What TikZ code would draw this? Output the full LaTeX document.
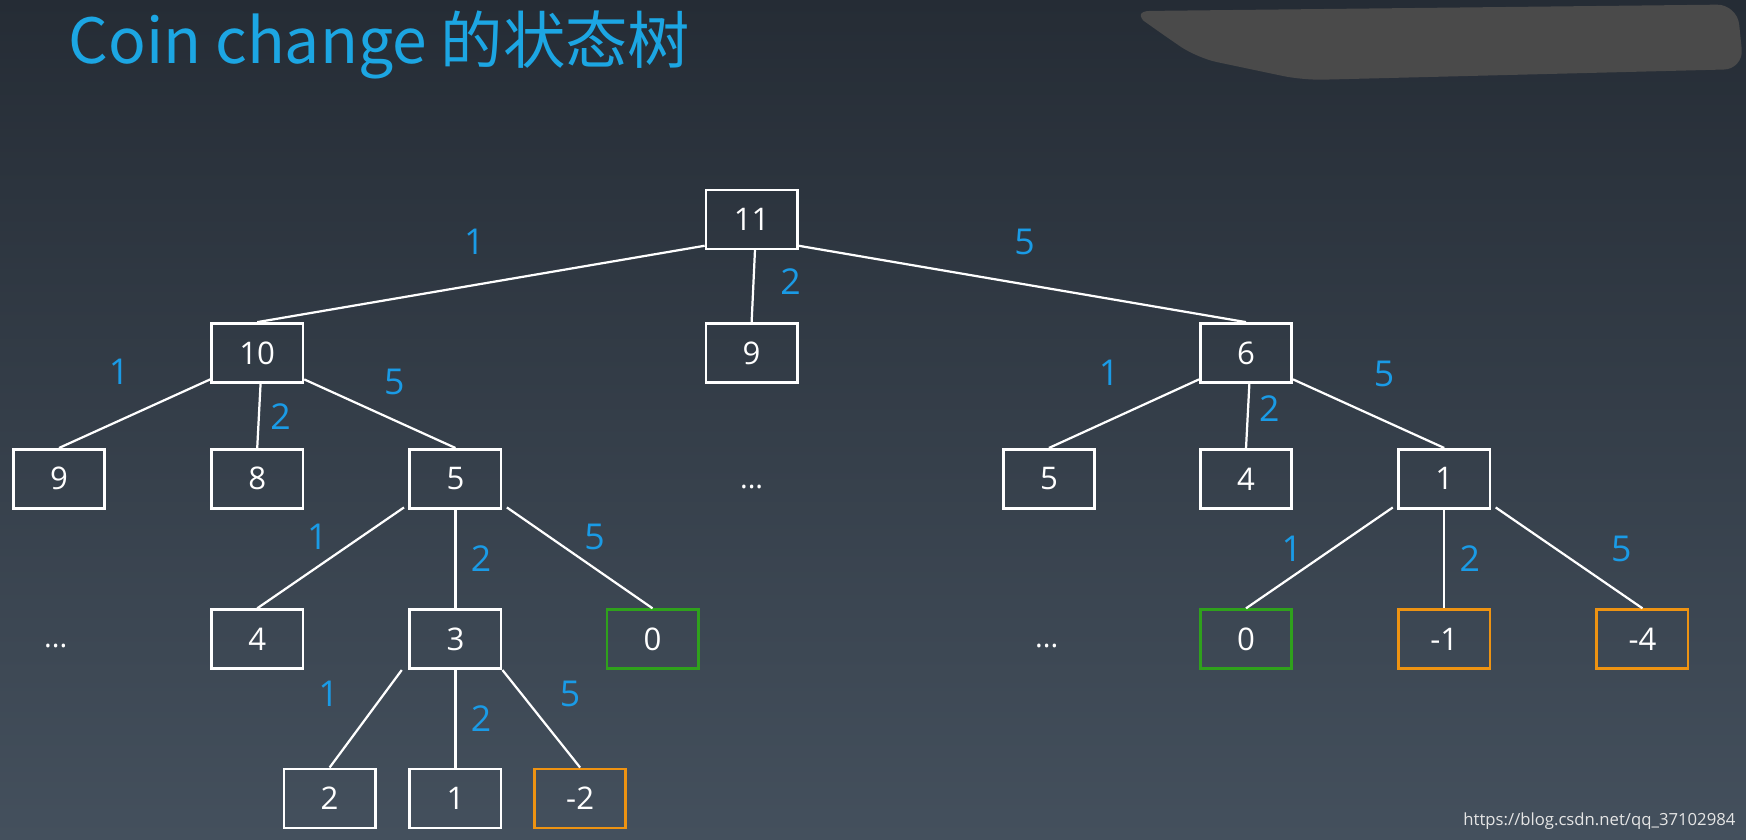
\documentclass[tikz,border=0pt]{standalone}
\usepackage{fontspec}
\setmainfont{Open Sans}
\newfontfamily\cjk{Noto Sans CJK SC}
\usetikzlibrary{calc}
\definecolor{bgtop}{HTML}{252C35}
\definecolor{bgbot}{HTML}{44505D}
\definecolor{lblue}{HTML}{1A9BE6}
\definecolor{tblue}{HTML}{1CA6E3}
\definecolor{okgreen}{HTML}{2FA11C}
\definecolor{badorange}{HTML}{EE9312}
\definecolor{smudge}{HTML}{4A4A4A}
\begin{document}
\begin{tikzpicture}[x=1pt,y=-1pt,
  nbox/.style={draw=white,line width=2.4pt,minimum width=82pt,minimum height=53pt,inner sep=0pt,text=white,font=\fontsize{28}{30}\selectfont},
  good/.style={nbox,draw=okgreen},
  bad/.style={nbox,draw=badorange},
  dots/.style={text=white,font=\fontsize{26}{28}\selectfont},
  edge/.style={white,line width=2pt},
  lbl/.style={text=lblue,font=\fontsize{32}{34}\selectfont}]
\shade[top color=bgtop,bottom color=bgbot] (0,0) rectangle (1568,754);
\useasboundingbox (0,0) rectangle (1568,754);
% redaction smudge
\fill[smudge,rounded corners=18pt] (1015,10) -- (1560,4) -- (1566,62) -- (1170,72) -- (1075,52) -- (1040,28) -- cycle;
\node[anchor=west,text=tblue,font=\cjk\fontsize{56}{60}\selectfont] (title) at (58,40) {Coin change 的状态树};
% nodes
\node[nbox] (n11) at (675,197) {11};
\node[nbox] (n10) at (231,317) {10};
\node[nbox] (n9a) at (675,317) {9};
\node[nbox] (n6) at (1119,317) {6};
\node[nbox] (n9b) at (53,430) {9};
\node[nbox] (n8) at (231,430) {8};
\node[nbox] (n5a) at (409,430) {5};
\node[dots] (d1) at (675,437) {...};
\node[nbox] (n5b) at (942,430) {5};
\node[nbox] (n4a) at (1119,430) {4};
\node[nbox] (n1a) at (1297,430) {1};
\node[dots] (d2) at (50,580) {...};
\node[nbox] (n4b) at (231,574) {4};
\node[nbox] (n3) at (409,574) {3};
\node[good] (z1) at (586,574) {0};
\node[dots] (d3) at (940,580) {...};
\node[good] (z2) at (1119,574) {0};
\node[bad] (m1) at (1297,574) {-1};
\node[bad] (m4) at (1475,574) {-4};
\node[nbox] (n2) at (296,717) {2};
\node[nbox] (n1b) at (409,717) {1};
\node[bad] (m2) at (521,717) {-2};
% edges
\draw[edge] ($(n11.south west)+(0,-4)$) -- (n10.north);
\draw[edge] ($(n11.south)+(3,0)$) -- (n9a.north);
\draw[edge] ($(n11.south east)+(0,-4)$) -- (n6.north);
\draw[edge] ($(n10.south west)+(0,-4)$) -- (n9b.north);
\draw[edge] ($(n10.south)+(3,0)$) -- (n8.north);
\draw[edge] ($(n10.south east)+(0,-4)$) -- (n5a.north);
\draw[edge] ($(n6.south west)+(0,-4)$) -- (n5b.north);
\draw[edge] ($(n6.south)+(3,0)$) -- (n4a.north);
\draw[edge] ($(n6.south east)+(0,-4)$) -- (n1a.north);
\draw[edge] ($(n5a.south west)+(-4,-2)$) -- (n4b.north);
\draw[edge] (n5a.south) -- (n3.north);
\draw[edge] ($(n5a.south east)+(4,-2)$) -- (z1.north);
\draw[edge] ($(n1a.south west)+(-4,-2)$) -- (z2.north);
\draw[edge] (n1a.south) -- (m1.north);
\draw[edge] ($(n1a.south east)+(4,-2)$) -- (m4.north);
\draw[edge] ($(n3.south west)+(-6,0)$) -- (n2.north);
\draw[edge] (n3.south) -- (n1b.north);
\draw[edge] (n3.south east) -- (m2.north);
% labels
\node[lbl] at (426,217) {1};
\node[lbl] at (710,253) {2};
\node[lbl] at (920,217) {5};
\node[lbl] at (107,334) {1};
\node[lbl] at (252,374) {2};
\node[lbl] at (354,343) {5};
\node[lbl] at (996,335) {1};
\node[lbl] at (1140,367) {2};
\node[lbl] at (1243,336) {5};
\node[lbl] at (285,482) {1};
\node[lbl] at (432,502) {2};
\node[lbl] at (534,482) {5};
\node[lbl] at (1160,493) {1};
\node[lbl] at (1320,502) {2};
\node[lbl] at (1456,493) {5};
\node[lbl] at (295,623) {1};
\node[lbl] at (432,645) {2};
\node[lbl] at (512,623) {5};
\node[anchor=east,text=white!80!gray,font=\fontsize{15}{17}\selectfont] (wm) at (1562,737) {https://blog.csdn.net/qq\_37102984};
\end{tikzpicture}
\end{document}
